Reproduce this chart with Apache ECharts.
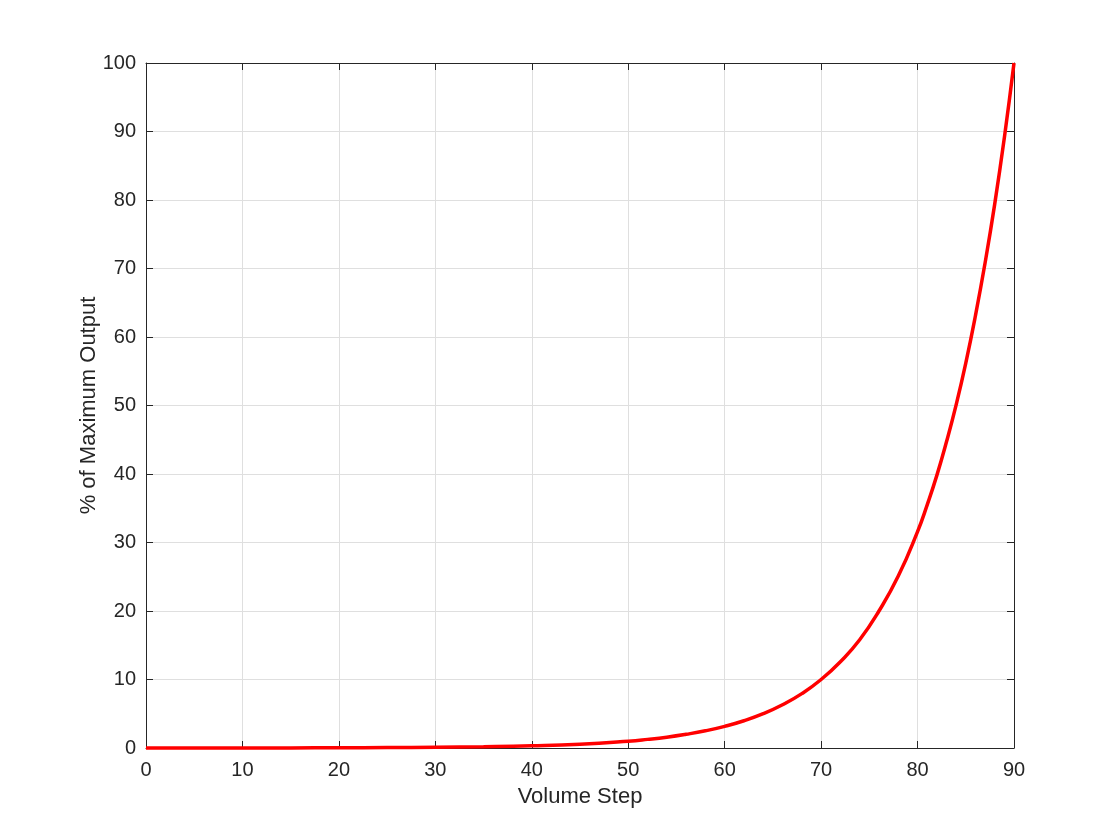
<!DOCTYPE html>
<html><head><meta charset="utf-8">
<script src="https://cdn.jsdelivr.net/npm/echarts@6/dist/echarts.min.js"></script>
<style>html,body{margin:0;padding:0;background:#fff}#c{width:1120px;height:840px}</style>
</head><body><div id="c"></div>
<script>
const volumeSteps = [0,5,10,15,20,25,30,35,40,45,50,52,54,56,58,60,62,64,66,68,70,72,74,76,78,80,81,82,83,84,85,86,87,88,89,90];
const outputPct = [0.0032,0.0056,0.01,0.0178,0.0316,0.056,0.1,0.178,0.316,0.56,1.0,1.26,1.58,2.0,2.51,3.16,3.98,5.01,6.31,7.94,10.0,12.6,15.8,20.0,25.1,31.6,35.5,39.8,44.7,50.1,56.2,63.1,70.8,79.4,89.1,100];
const xTicks = [0,10,20,30,40,50,60,70,80,90];
const yTicks = [0,10,20,30,40,50,60,70,80,90,100];

const font = 'Helvetica, "Liberation Sans", Arial, sans-serif';
const axLine = {show:true, onZero:false, lineStyle:{color:'#262626', width:1}};
const tick = {show:true, inside:true, length:7, lineStyle:{color:'#262626', width:1}};
const grid = {show:true, lineStyle:{color:'#dfdfdf', width:1}};
const lab = {color:'#262626', fontSize:20, fontFamily:font};
const nameStyle = {color:'#262626', fontSize:22, fontFamily:font};

const chart = echarts.init(document.getElementById('c'), null, {renderer:'canvas'});
chart.setOption({
  animation:false,
  backgroundColor:'#fff',
  grid:{left:146, top:63, width:868, height:685, containLabel:false},
  xAxis:[
    {type:'value', min:xTicks[0], max:xTicks[xTicks.length-1], interval:10, position:'bottom',
     axisLine:axLine, axisTick:tick, splitLine:grid,
     axisLabel:Object.assign({margin:12}, lab),
     name:'Volume Step', nameLocation:'middle', nameGap:38, nameMoveOverlap:false, nameTextStyle:nameStyle},
    {type:'value', min:xTicks[0], max:xTicks[xTicks.length-1], interval:10, position:'top',
     axisLine:axLine, axisTick:tick, splitLine:{show:false}, axisLabel:{show:false}}
  ],
  yAxis:[
    {type:'value', min:yTicks[0], max:yTicks[yTicks.length-1], interval:10, position:'left',
     axisLine:axLine, axisTick:tick, splitLine:grid,
     axisLabel:Object.assign({margin:10}, lab),
     name:'% of Maximum Output', nameLocation:'middle', nameGap:46, nameMoveOverlap:false, nameTextStyle:nameStyle},
    {type:'value', min:yTicks[0], max:yTicks[yTicks.length-1], interval:10, position:'right',
     axisLine:axLine, axisTick:tick, splitLine:{show:false}, axisLabel:{show:false}}
  ],
  series:[{
    type:'line', smooth:true, symbol:'none',
    data: volumeSteps.map((x,i)=>[x, outputPct[i]]),
    lineStyle:{color:'#ff0000', width:3.5},
    clip:false
  }]
});
</script></body></html>
